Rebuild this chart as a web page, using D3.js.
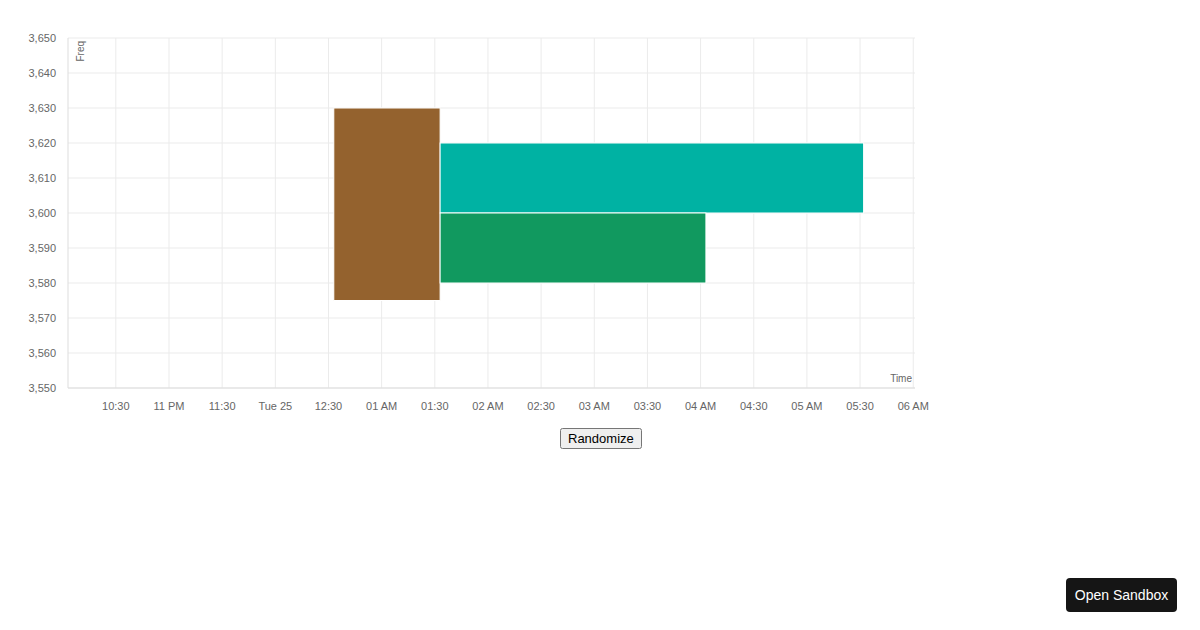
<!DOCTYPE html>
<html><head><meta charset="utf-8">
<script src="https://cdn.jsdelivr.net/npm/d3@7"></script>
<style>
body{margin:0;font-family:"Liberation Sans",Arial,sans-serif;background:#fff}
#btn{position:absolute;left:560px;top:428px;font-size:13px;padding:1px 6px;font-family:"Liberation Sans",Arial}
#sb{position:absolute;left:1066px;top:578px;width:111px;height:34px;background:#151515;color:#fff;border-radius:4px;font-size:14px;line-height:34px;text-align:center}
</style></head><body>
<svg id="c" width="1200" height="630" style="position:absolute;left:0;top:0"></svg>
<button id="btn">Randomize</button>
<div id="sb">Open Sandbox</div>
<script>
const names=["brown","teal","green"];
const startTimes=["2024-06-25T00:33","2024-06-25T01:33","2024-06-25T01:33"];
const endTimes=["2024-06-25T01:33","2024-06-25T05:32","2024-06-25T04:03"];
const lowFreq=[3575,3600,3580];
const highFreq=[3630,3620,3600];
const colors=["#94622e","#00b2a3","#11995f"];
const yTicks=[3550,3560,3570,3580,3590,3600,3610,3620,3630,3640,3650];
const xTickTimes=["2024-06-24T22:30","2024-06-24T23:00","2024-06-24T23:30","2024-06-25T00:00","2024-06-25T00:30","2024-06-25T01:00","2024-06-25T01:30","2024-06-25T02:00","2024-06-25T02:30","2024-06-25T03:00","2024-06-25T03:30","2024-06-25T04:00","2024-06-25T04:30","2024-06-25T05:00","2024-06-25T05:30","2024-06-25T06:00"];
const xTickLabels=["10:30","11 PM","11:30","Tue 25","12:30","01 AM","01:30","02 AM","02:30","03 AM","03:30","04 AM","04:30","05 AM","05:30","06 AM"];

const L=68,R=915,T=38,B=388;
const svg=d3.select("#c");
const x=d3.scaleTime().domain([new Date("2024-06-24T22:03"),new Date("2024-06-25T06:01")]).range([L,R]);
const y=d3.scaleLinear().domain([3550,3650]).range([B,T]);
const g=svg.append("g");
g.selectAll(".hg").data(yTicks).join("line").attr("x1",L).attr("x2",R).attr("y1",d=>y(d)).attr("y2",d=>y(d)).attr("stroke","#ebebeb");
g.selectAll(".vg").data(xTickTimes).join("line").attr("x1",d=>x(new Date(d))).attr("x2",d=>x(new Date(d))).attr("y1",T).attr("y2",B).attr("stroke","#ebebeb");
g.append("line").attr("x1",L).attr("x2",L).attr("y1",T).attr("y2",B).attr("stroke","#ddd");
g.append("line").attr("x1",L).attr("x2",R).attr("y1",B).attr("y2",B).attr("stroke","#ddd");
g.selectAll(".yl").data(yTicks).join("text").attr("x",L-12).attr("y",d=>y(d)+4).attr("text-anchor","end").attr("font-size",11).attr("fill","#666").text(d=>d3.format(",")(d));
g.selectAll(".xl").data(xTickTimes).join("text").attr("x",d=>x(new Date(d))).attr("y",410).attr("text-anchor","middle").attr("font-size",11).attr("fill","#666").text((d,i)=>xTickLabels[i]);
svg.selectAll(".r").data(names).join("rect")
 .attr("x",(d,i)=>x(new Date(startTimes[i])))
 .attr("width",(d,i)=>x(new Date(endTimes[i]))-x(new Date(startTimes[i])))
 .attr("y",(d,i)=>y(highFreq[i]))
 .attr("height",(d,i)=>y(lowFreq[i])-y(highFreq[i]))
 .attr("fill",(d,i)=>colors[i]).attr("stroke","#fff").attr("stroke-width",1);
svg.append("text").attr("transform","translate(84,41) rotate(-90)").attr("text-anchor","end").attr("font-size",10).attr("fill","#666").text("Freq");
svg.append("text").attr("x",912).attr("y",382).attr("text-anchor","end").attr("font-size",10).attr("fill","#666").text("Time");
</script></body></html>
